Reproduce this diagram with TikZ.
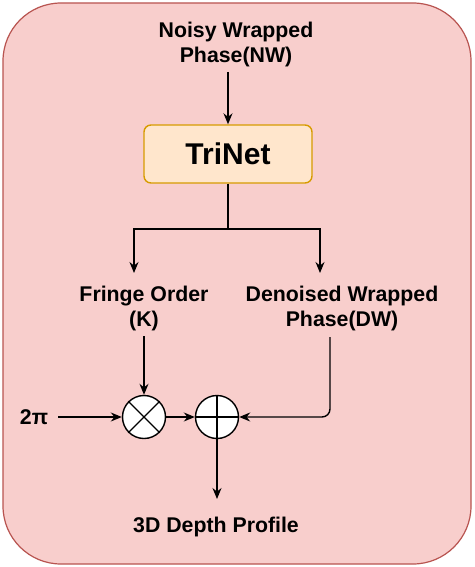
\documentclass[tikz,border=0pt]{standalone}
\usepackage{fontspec}
\setmainfont{Liberation Sans}
\usetikzlibrary{arrows.meta}
\definecolor{outerfill}{HTML}{F8CECC}
\definecolor{outerdraw}{HTML}{B85450}
\definecolor{netfill}{HTML}{FFE6CC}
\definecolor{netdraw}{HTML}{D79B00}
\begin{document}
\begin{tikzpicture}[x=1pt,y=-1pt,
  lbl/.style={font=\fontsize{21.3}{25}\selectfont\bfseries, align=center, inner sep=0pt},
  conn/.style={line width=1.4pt, -{Stealth[length=11pt,width=9pt]}},
  plain/.style={line width=1.4pt},
  op/.style={circle, draw, line width=1.4pt, fill=white, minimum size=43pt, inner sep=0pt}]
\useasboundingbox (0,0) rectangle (474,567);
\draw[outerdraw, fill=outerfill, line width=1.2pt, rounded corners=58pt] (3,3) rectangle (471,564);
\node[lbl] (nw) at (236,44) {Noisy Wrapped\\Phase(NW)};
\node[draw=netdraw, fill=netfill, line width=1.4pt, rounded corners=7pt, minimum width=168pt, minimum height=58pt, font=\fontsize{30}{36}\selectfont\bfseries] (tri) at (228,154) {TriNet};
\coordinate (nwbot) at (228,72);
\draw[conn] (nwbot) -- (tri.north);
\coordinate (split) at (228,229);
\coordinate (sl) at (134,229);
\coordinate (sr) at (320,229);
\node[lbl] (k) at (144,308) {Fringe Order\\(K)};
\node[lbl] (dw) at (342,308) {Denoised Wrapped\\Phase(DW)};
\coordinate (kt) at (134,273);
\coordinate (dwt) at (320,273);
\draw[plain] (tri.south) -- (split);
\draw[conn] (split) -- (sl) -- (kt);
\draw[conn] (split) -- (sr) -- (dwt);
\node[op] (mul) at (144,417) {};
\draw[line width=1.2pt] (mul.north east) -- (mul.south west) (mul.north west) -- (mul.south east);
\node[op] (add) at (217,417) {};
\draw[line width=1.2pt] (add.north) -- (add.south) (add.west) -- (add.east);
\node[lbl] (tp) at (34,417) {2π};
\coordinate (kb) at (144,336);
\draw[conn] (kb) -- (mul.north);
\draw[conn] (tp.east) ++(10,0) -- (mul.west);
\draw[conn] (mul.east) -- (add.west);
\coordinate (dwb) at (330,337);
\draw[conn, rounded corners=8pt] (dwb) -- (330,417) -- (add.east);
\node[lbl] (out) at (216,527) {3D Depth Profile};
\draw[conn] (add.south) -- (217,499);
\end{tikzpicture}
\end{document}
